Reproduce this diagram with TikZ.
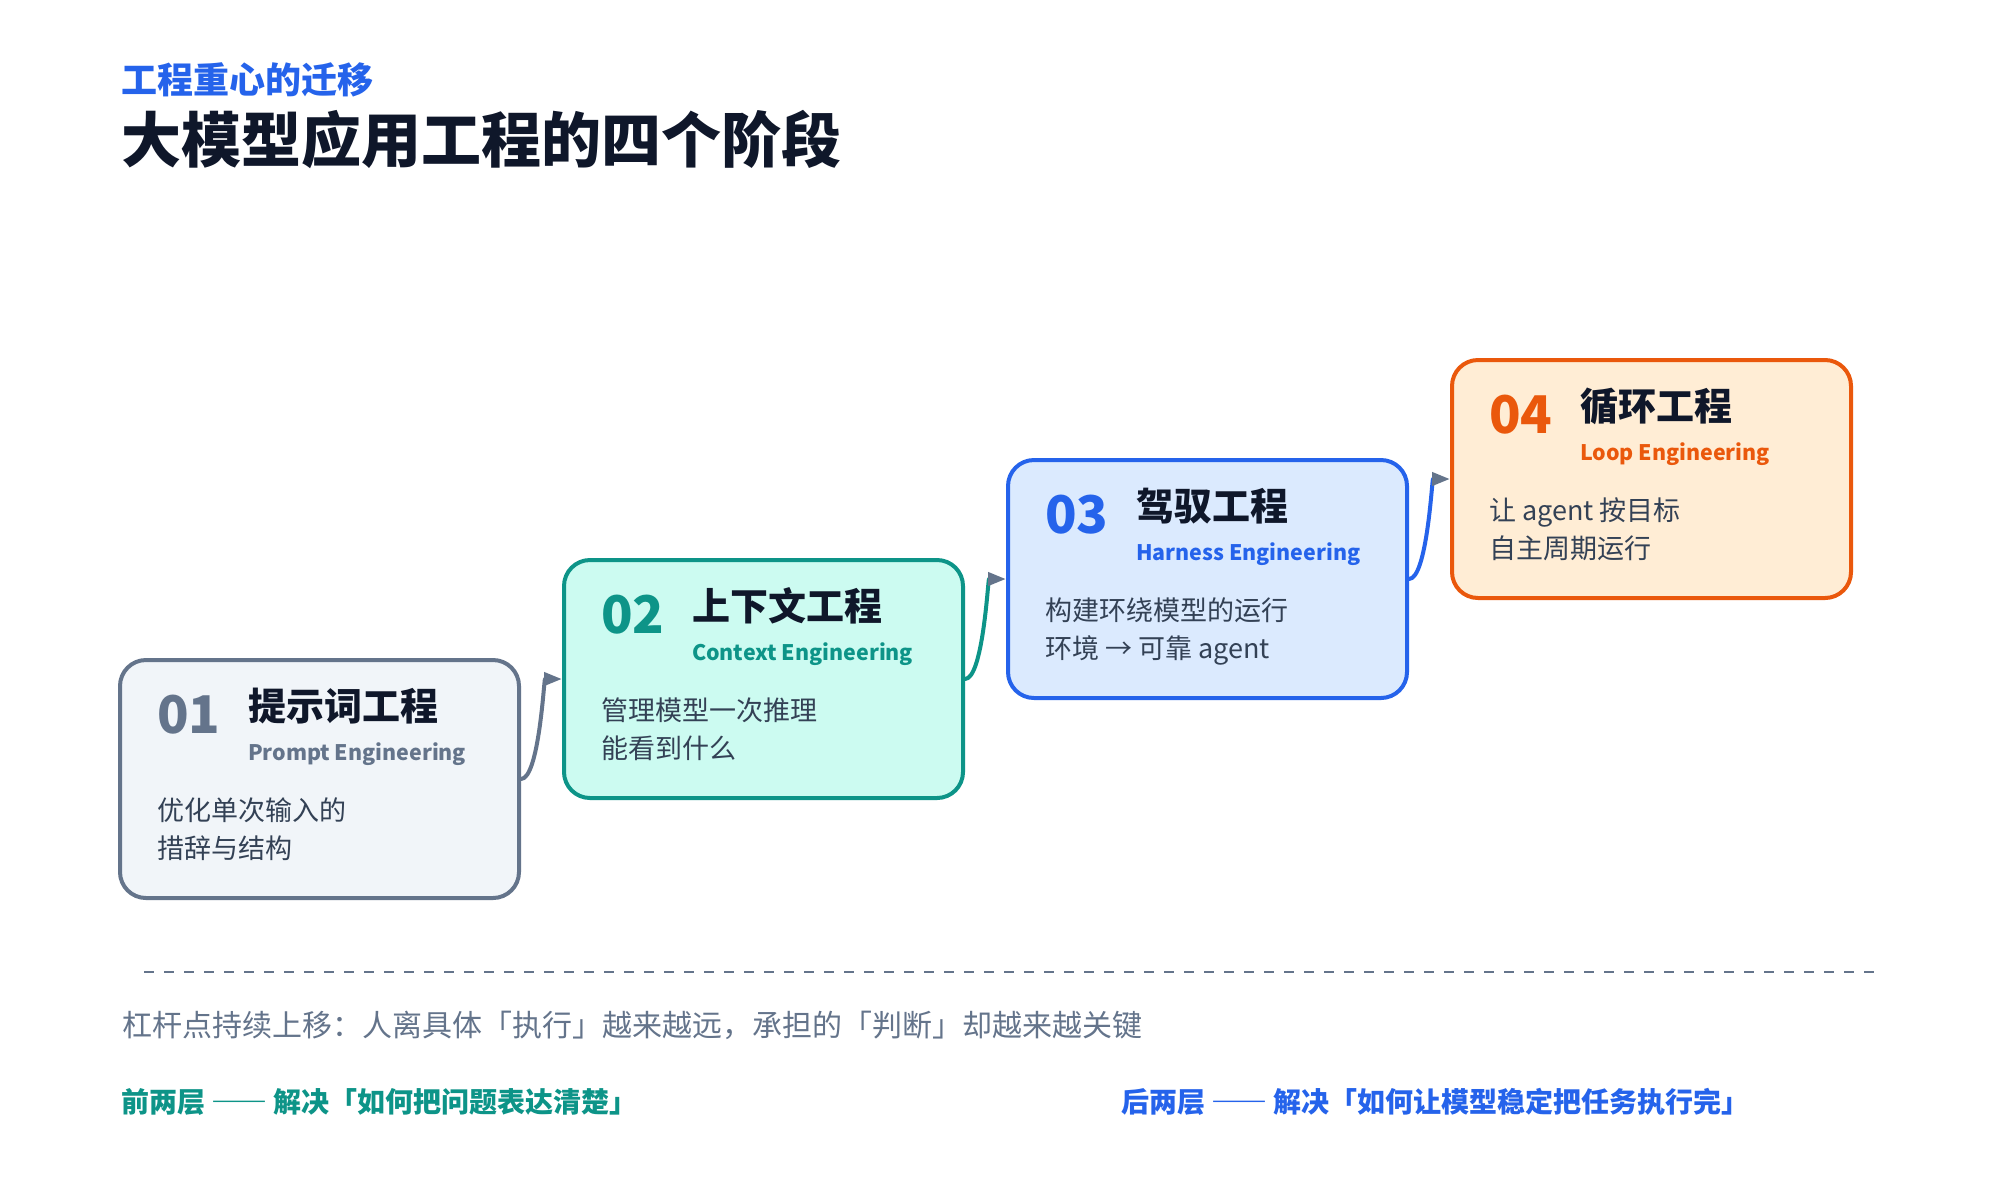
\documentclass[tikz,border=0pt]{standalone}
\usepackage{fontspec}
\setmainfont{Noto Sans CJK SC}
\newfontfamily\heavyfont{Noto Sans CJK SC Black}
\usetikzlibrary{arrows.meta}
\definecolor{ink}{HTML}{0F172A}
\definecolor{bodytext}{HTML}{334155}
\definecolor{cslate}{HTML}{64748B}
\definecolor{cslatefill}{HTML}{F1F5F9}
\definecolor{cteal}{HTML}{0D9488}
\definecolor{ctealfill}{HTML}{CCFBF1}
\definecolor{cblue}{HTML}{2563EB}
\definecolor{cbluefill}{HTML}{DBEAFE}
\definecolor{corange}{HTML}{EA580C}
\definecolor{corangefill}{HTML}{FFEDD5}
\newcommand{\widedash}{{\addfontfeature{RawFeature=+fwid}——}}
\tikzset{
  stage/.style n args={2}{draw=#1, fill=#2, line width=2pt, rounded corners=13pt,
    minimum width=199.5pt, minimum height=119pt, inner sep=0pt},
  txt/.style={anchor=base west, inner sep=0pt, outer sep=0pt},
  num/.style={txt, font=\fontsize{26}{26}\selectfont\bfseries, text=#1},
  ttl/.style={txt, font=\fontsize{19}{19}\selectfont\bfseries, text=ink},
  eng/.style={txt, font=\fontsize{10.7}{10.7}\selectfont\bfseries, text=#1},
  desc/.style={txt, font=\fontsize{13.5}{13.5}\selectfont, text=bodytext},
  link/.style={draw=#1, line width=2pt, line cap=round,
    -{Triangle[length=9pt,width=6.5pt,color=cslate]}},
}
\begin{document}
\begin{tikzpicture}[x=0.5pt,y=-0.5pt]
\useasboundingbox[fill=white] (0,0) rectangle (2000,1200);

% header
\node[txt, font=\fontsize{18}{18}\selectfont\bfseries, text=cblue] (sub) at (121,93) {工程重心的迁移};
\node[txt, font=\fontsize{30}{30}\selectfont\heavyfont, text=ink] (title) at (121,162) {大模型应用工程的四个阶段};

% stages
\node[stage={cslate}{cslatefill}] (b1) at (319.5,779) {};
\node[stage={cteal}{ctealfill}] (b2) at (763.5,679) {};
\node[stage={cblue}{cbluefill}] (b3) at (1207.5,579) {};
\node[stage={corange}{corangefill}] (b4) at (1651.5,479) {};

% box 1
\node[num=cslate] (n1) at ([shift={(39,75)}]b1.north west) {01};
\node[ttl] (t1) at ([shift={(130,62)}]b1.north west) {提示词工程};
\node[eng=cslate] (e1) at ([shift={(130,102)}]b1.north west) {Prompt Engineering};
\node[desc] (d1a) at ([shift={(39,162)}]b1.north west) {优化单次输入的};
\node[desc] (d1b) at ([shift={(39,200)}]b1.north west) {措辞与结构};

% box 2
\node[num=cteal] (n2) at ([shift={(39,75)}]b2.north west) {02};
\node[ttl] (t2) at ([shift={(130,62)}]b2.north west) {上下文工程};
\node[eng=cteal] (e2) at ([shift={(130,102)}]b2.north west) {Context Engineering};
\node[desc] (d2a) at ([shift={(39,162)}]b2.north west) {管理模型一次推理};
\node[desc] (d2b) at ([shift={(39,200)}]b2.north west) {能看到什么};

% box 3
\node[num=cblue] (n3) at ([shift={(39,75)}]b3.north west) {03};
\node[ttl] (t3) at ([shift={(130,62)}]b3.north west) {驾驭工程};
\node[eng=cblue] (e3) at ([shift={(130,102)}]b3.north west) {Harness Engineering};
\node[desc] (d3a) at ([shift={(39,162)}]b3.north west) {构建环绕模型的运行};
\node[desc] (d3b) at ([shift={(39,200)}]b3.north west) {环境 → 可靠 agent};

% box 4
\node[num=corange] (n4) at ([shift={(39,75)}]b4.north west) {04};
\node[ttl] (t4) at ([shift={(130,62)}]b4.north west) {循环工程};
\node[eng=corange] (e4) at ([shift={(130,102)}]b4.north west) {Loop Engineering};
\node[desc] (d4a) at ([shift={(39,162)}]b4.north west) {让 agent 按目标};
\node[desc] (d4b) at ([shift={(39,200)}]b4.north west) {自主周期运行};

% connectors
\draw[link=cslate] (b1.east) .. controls +(18,0) and +(-18,0) .. (b2.west);
\draw[link=cteal] (b2.east) .. controls +(18,0) and +(-18,0) .. (b3.west);
\draw[link=cblue] (b3.east) .. controls +(18,0) and +(-18,0) .. (b4.west);

% footer
\coordinate (sepL) at (144,972);
\coordinate (sepR) at (1874,972);
\draw[cslate, line width=1pt, dash pattern=on 5pt off 5pt] (sepL) -- (sepR);
\node[txt, font=\fontsize{15}{15}\selectfont, text=cslate] (note) at (122,1036) {杠杆点持续上移：人离具体「执行」越来越远，承担的「判断」却越来越关键};
\node[txt, font=\fontsize{14}{14}\selectfont\bfseries, text=cteal] (front) at (121,1112) {前两层 \widedash{} 解决「如何把问题表达清楚」};
\node[txt, font=\fontsize{14}{14}\selectfont\bfseries, text=cblue] (back) at (1121,1112) {后两层 \widedash{} 解决「如何让模型稳定把任务执行完」};
\end{tikzpicture}
\end{document}
